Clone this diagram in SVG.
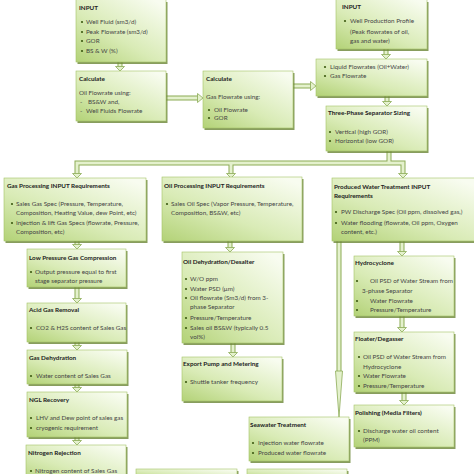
<svg xmlns="http://www.w3.org/2000/svg" width="474" height="474" viewBox="0 0 474 474">
<defs>
<linearGradient id="g" x1="0" y1="1" x2="0.85" y2="0">
<stop offset="0" stop-color="#b3d277"/>
<stop offset="0.45" stop-color="#d9ebb6"/>
<stop offset="1" stop-color="#f8fcf0"/>
</linearGradient>
<style>
.sh{fill:#6a8536;opacity:0.8}
.bx{fill:url(#g);stroke:#a4c266;stroke-width:0.6}
text{font-family:Lato,"Liberation Sans",sans-serif;font-size:6.3px;fill:#454545}
.t{font-weight:bold;fill:#222222}
.b{fill:#3d5a12}
.co{fill:none;stroke:#8cab55;stroke-width:5}
.ci{fill:none;stroke:#e4f1cd;stroke-width:3}
.hd{fill:#e4f1cd;stroke:#8cab55;stroke-width:0.8;stroke-linejoin:miter}
</style>
<g id="dot"><circle cx="0" cy="-2" r="1.1" class="b"/></g>
</defs>
<rect width="474" height="474" fill="#ffffff"/>

<g id="connectors">
<path class="co" d="M120,62V67 M166,98H198 M293,86H311 M386,49V55 M387,96V102 M389,151V163 M77,174V163H403V174 M231,163V174 M77,241V245 M77,287V299 M77,342V346 M77,384V388 M77,437V441 M230,241V248 M233,343V353 M402,241V252 M402,316V328 M404,392V401 M339,241V372"/>
<path class="ci" d="M120,62V67 M166,98H198 M293,86H311 M386,49V55 M387,96V102 M389,151V163 M77,174V163H403V174 M231,163V174 M77,241V245 M77,287V299 M77,342V346 M77,384V388 M77,437V441 M230,241V248 M233,343V353 M402,241V252 M402,316V328 M404,392V401 M339,241V372"/>
<polygon class="hd" points="115.5,66.5 124.5,66.5 120,71"/>
<polygon class="hd" points="197.5,93.5 197.5,102.5 203,98"/>
<polygon class="hd" points="310.5,81.5 310.5,90.5 316,86"/>
<polygon class="hd" points="381.5,54.5 390.5,54.5 386,59"/>
<polygon class="hd" points="382.5,101.5 391.5,101.5 387,106"/>
<polygon class="hd" points="72.5,173.5 81.5,173.5 77,178"/>
<polygon class="hd" points="226.5,173.5 235.5,173.5 231,178"/>
<polygon class="hd" points="398.5,173.5 407.5,173.5 403,178"/>
<polygon class="hd" points="72.5,244.5 81.5,244.5 77,249"/>
<polygon class="hd" points="72.5,298.5 81.5,298.5 77,303"/>
<polygon class="hd" points="72.5,345.5 81.5,345.5 77,350"/>
<polygon class="hd" points="72.5,387.5 81.5,387.5 77,392"/>
<polygon class="hd" points="72.5,440.5 81.5,440.5 77,445"/>
<polygon class="hd" points="225.5,247.5 234.5,247.5 230,252"/>
<polygon class="hd" points="228.5,352.5 237.5,352.5 233,357"/>
<polygon class="hd" points="397.5,251.5 406.5,251.5 402,256"/>
<polygon class="hd" points="397.5,327.5 406.5,327.5 402,332"/>
<polygon class="hd" points="399.5,400.5 408.5,400.5 404,405"/>
<polygon class="hd" points="335.5,371 342.5,371 339,417"/>
</g>

<g id="input1">
<rect class="sh" x="77.5" y="2" width="90" height="62"/>
<rect class="bx" x="76" y="-1" width="90" height="63"/>
<text class="t" x="79" y="10">INPUT</text>
<use href="#dot" x="82" y="24"/><text x="86" y="24">Well Fluid (sm3/d)</text>
<use href="#dot" x="82" y="34"/><text x="86" y="34">Peak Flowrate (sm3/d)</text>
<use href="#dot" x="82" y="43"/><text x="86" y="43">GOR</text>
<use href="#dot" x="82" y="53"/><text x="86" y="53">BS &amp; W (%)</text>
</g>

<g id="calc1">
<rect class="sh" x="77.5" y="73" width="90" height="50"/>
<rect class="bx" x="76" y="71" width="90" height="50"/>
<text class="t" x="79" y="81">Calculate</text>
<text x="79" y="95">Oil Flowrate using:</text>
<text x="80" y="104">-</text><text x="88" y="104">BS&amp;W and,</text>
<text x="80" y="113">-</text><text x="86" y="113">Well Fluids Flowrate</text>
</g>

<g id="calc2">
<rect class="sh" x="204.5" y="73" width="90" height="57"/>
<rect class="bx" x="203" y="71" width="90" height="57"/>
<text class="t" x="206" y="81">Calculate</text>
<text x="206" y="99">Gas Flowrate using:</text>
<use href="#dot" x="209" y="112"/><text x="214" y="112">Oil Flowrate</text>
<use href="#dot" x="209" y="120"/><text x="214" y="120">GOR</text>
</g>

<g id="input2">
<rect class="sh" x="337.5" y="2" width="91" height="49"/>
<rect class="bx" x="336" y="-1" width="91" height="50"/>
<text class="t" x="342" y="9">INPUT</text>
<use href="#dot" x="345" y="23"/><text x="350" y="23">Well Production Profile</text>
<text x="350" y="34">(Peak flowrates of oil,</text>
<text x="350" y="43">gas and water)</text>
</g>

<g id="flowrates">
<rect class="sh" x="317.5" y="61" width="111" height="37"/>
<rect class="bx" x="316" y="59" width="111" height="37"/>
<use href="#dot" x="325" y="69"/><text x="330" y="69">Liquid Flowrates (Oil+Water)</text>
<use href="#dot" x="325" y="78"/><text x="330" y="78">Gas Flowrate</text>
</g>

<g id="separator">
<rect class="sh" x="327.5" y="108" width="101" height="45"/>
<rect class="bx" x="326" y="106" width="101" height="45"/>
<text class="t" x="328" y="115">Three-Phase Separator Sizing</text>
<use href="#dot" x="330" y="134"/><text x="335" y="134">Vertical (high GOR)</text>
<use href="#dot" x="330" y="143"/><text x="335" y="143">Horizontal (low GOR)</text>
</g>

<g id="gas-input">
<rect class="sh" x="5.5" y="180" width="142" height="63"/>
<rect class="bx" x="4" y="178" width="142" height="63"/>
<text class="t" x="7" y="188">Gas Processing INPUT Requirements</text>
<use href="#dot" x="12" y="206"/><text x="16" y="206">Sales Gas Spec (Pressure, Temperature,</text>
<text x="16" y="215">Composition, Heating Value, dew Point, etc)</text>
<use href="#dot" x="12" y="225"/><text x="16" y="225">Injection &amp; lift Gas Specs (flowrate, Pressure,</text>
<text x="16" y="234">Composition, etc)</text>
</g>

<g id="oil-input">
<rect class="sh" x="163.5" y="179" width="140" height="64"/>
<rect class="bx" x="162" y="177" width="140" height="64"/>
<text class="t" x="164" y="188">Oil Processing INPUT Requirements</text>
<use href="#dot" x="167" y="206"/><text x="171" y="206">Sales Oil Spec (Vapor Pressure, Temperature,</text>
<text x="171" y="215">Composition, BS&amp;W, etc)</text>
</g>

<g id="pw-input">
<rect class="sh" x="333.5" y="180" width="144" height="63"/>
<rect class="bx" x="332" y="178" width="144" height="63"/>
<text class="t" x="334" y="189">Produced Water Treatment INPUT</text>
<text class="t" x="334" y="198">Requirements</text>
<use href="#dot" x="336" y="214"/><text x="341" y="214">PW Discharge Spec (Oil ppm, dissolved gas,)</text>
<use href="#dot" x="336" y="225"/><text x="341" y="225">Water flooding (flowrate, Oil ppm, Oxygen</text>
<text x="341" y="234">content, etc.)</text>
</g>

<g id="lp-compression">
<rect class="sh" x="28.5" y="251" width="99" height="38"/>
<rect class="bx" x="27" y="249" width="99" height="38"/>
<text class="t" x="29" y="260">Low Pressure Gas Compression</text>
<use href="#dot" x="31" y="274"/><text x="35" y="274">Output pressure equal to first</text>
<text x="35" y="283">stage separator pressure</text>
</g>

<g id="acid-gas">
<rect class="sh" x="28.5" y="305" width="99" height="39"/>
<rect class="bx" x="27" y="303" width="99" height="39"/>
<text class="t" x="29" y="312">Acid Gas Removal</text>
<use href="#dot" x="31" y="330"/><text x="36" y="330">CO2 &amp; H2S content of Sales Gas</text>
</g>

<g id="gas-dehydration">
<rect class="sh" x="28.5" y="352" width="100" height="34"/>
<rect class="bx" x="27" y="350" width="100" height="34"/>
<text class="t" x="29" y="360">Gas Dehydration</text>
<use href="#dot" x="31" y="378"/><text x="36" y="378">Water content of Sales Gas</text>
</g>

<g id="ngl">
<rect class="sh" x="28.5" y="394" width="100" height="45"/>
<rect class="bx" x="27" y="392" width="100" height="45"/>
<text class="t" x="29" y="402">NGL Recovery</text>
<use href="#dot" x="31" y="420"/><text x="36" y="420">LHV and Dew point of sales gas</text>
<use href="#dot" x="31" y="430"/><text x="36" y="430">cryogenic requirement</text>
</g>

<g id="nitrogen">
<rect class="sh" x="27.5" y="447" width="100" height="40"/>
<rect class="bx" x="26" y="445" width="100" height="40"/>
<text class="t" x="28" y="455">Nitrogen Rejection</text>
<use href="#dot" x="31" y="473"/><text x="35" y="473">Nitrogen content of Sales Gas</text>
</g>

<g id="oil-dehydration">
<rect class="sh" x="183.5" y="254" width="101" height="91"/>
<rect class="bx" x="182" y="252" width="101" height="91"/>
<text class="t" x="183" y="264">Oil Dehydration/Desalter</text>
<use href="#dot" x="186" y="281"/><text x="190" y="281">W/O ppm</text>
<use href="#dot" x="186" y="291"/><text x="190" y="291">Water PSD (μm)</text>
<use href="#dot" x="186" y="300"/><text x="190" y="300">Oil flowrate (Sm3/d) from 3-</text>
<text x="190" y="309">phase Separator</text>
<use href="#dot" x="186" y="320"/><text x="190" y="320">Pressure/Temperature</text>
<use href="#dot" x="186" y="330"/><text x="190" y="330">Sales oil BS&amp;W (typically 0.5</text>
<text x="190" y="339">vol%)</text>
</g>

<g id="export">
<rect class="sh" x="183.5" y="359" width="100" height="44"/>
<rect class="bx" x="182" y="357" width="100" height="44"/>
<text class="t" x="183" y="366">Export Pump and Metering</text>
<use href="#dot" x="186" y="384"/><text x="190" y="384">Shuttle tanker frequency</text>
</g>

<g id="hydrocyclone">
<rect class="sh" x="355.5" y="258" width="100" height="60"/>
<rect class="bx" x="354" y="256" width="100" height="60"/>
<text class="t" x="355" y="265">Hydrocyclone</text>
<use href="#dot" x="357" y="283"/><text x="370" y="283">Oil PSD of Water Stream from</text>
<text x="362" y="293">3-phase Separator</text>
<use href="#dot" x="357" y="303"/><text x="370" y="303">Water Flowrate</text>
<use href="#dot" x="357" y="312"/><text x="370" y="312">Pressure/Temperature</text>
</g>

<g id="floater">
<rect class="sh" x="355.5" y="334" width="100" height="60"/>
<rect class="bx" x="354" y="332" width="100" height="60"/>
<text class="t" x="355" y="341">Floater/Degasser</text>
<use href="#dot" x="359" y="359"/><text x="363" y="359">Oil PSD of Water Stream from</text>
<text x="363" y="369">Hydrocyclone</text>
<use href="#dot" x="359" y="378"/><text x="363" y="378">Water Flowrate</text>
<use href="#dot" x="359" y="388"/><text x="363" y="388">Pressure/Temperature</text>
</g>

<g id="polishing">
<rect class="sh" x="355.5" y="407" width="100" height="42"/>
<rect class="bx" x="354" y="405" width="100" height="42"/>
<text class="t" x="355" y="415">Polishing (Media Filters)</text>
<use href="#dot" x="359" y="433"/><text x="363" y="433">Discharge water oil content</text>
<text x="363" y="442">(PPM)</text>
</g>

<g id="seawater">
<rect class="sh" x="250.5" y="419" width="100" height="44"/>
<rect class="bx" x="249" y="417" width="100" height="44"/>
<text class="t" x="250" y="427">Seawater Treatment</text>
<use href="#dot" x="253" y="445"/><text x="258" y="445">Injection water flowrate</text>
<use href="#dot" x="253" y="455"/><text x="258" y="455">Produced water flowrate</text>
</g>

<g id="bottom1">
<rect class="sh" x="137.5" y="471" width="101" height="10"/>
<rect class="bx" x="136" y="469" width="101" height="10"/>
</g>
<g id="bottom2">
<rect class="sh" x="248.5" y="471" width="100" height="10"/>
<rect class="bx" x="247" y="469" width="100" height="10"/>
</g>
</svg>
